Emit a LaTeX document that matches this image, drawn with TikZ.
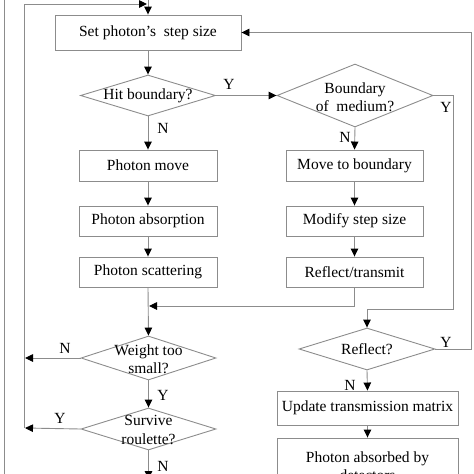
\documentclass[tikz,border=0pt]{standalone}
\usepackage{fontspec}
\setmainfont{Liberation Serif}
\usetikzlibrary{shapes.geometric,arrows.meta}
\begin{document}
\begin{tikzpicture}[x=1pt,y=-1pt,
  every node/.style={font=\fontsize{15.5}{18.5}\selectfont},
  ln/.style={draw=black!45, line width=0.9pt},
  box/.style={rectangle, ln, inner sep=0pt, align=center},
  dia/.style={diamond, ln, inner sep=0pt},
  txt/.style={inner sep=0pt, align=center},
  lab/.style={inner sep=0pt},
  arr/.style={ln, -{Triangle[length=8pt,width=7.5pt,color=black]}},
  con/.style={ln}]
\useasboundingbox (0,0) rectangle (474,474);
\clip (0,0) rectangle (474,474);
% boxes
\node[box, minimum width=186pt, minimum height=35pt] (S) at (148,32.5) {Set photon’s~ step size};
\node[box, minimum width=138pt, minimum height=31pt] (PM) at (148,165.5) {Photon move};
\node[box, minimum width=138pt, minimum height=30pt] (PA) at (148,221) {Photon absorption};
\node[box, minimum width=138pt, minimum height=30pt] (PS) at (148,272) {Photon scattering};
\node[box, minimum width=137pt, minimum height=31pt] (MB) at (354.5,165.5) {Move to boundary};
\node[box, minimum width=137pt, minimum height=30pt] (MS) at (354.5,221) {Modify step size};
\node[box, minimum width=137pt, minimum height=30pt] (RT) at (354.5,272) {Reflect/transmit};
\node[box, minimum width=181pt, minimum height=34pt] (U) at (367.5,408) {Update transmission matrix};
\node[box, minimum width=181pt, minimum height=56pt] (PAB) at (367.5,466) {};
\node[txt] (PABt) at (367.5,466) {Photon absorbed by\\detectors};
% diamonds
\node[dia, minimum width=135pt, minimum height=41pt] (H) at (148,95.5) {};
\node[txt] (Ht) at (148,96) {Hit boundary?};
\node[dia, minimum width=156pt, minimum height=63pt] (B) at (355,95.5) {};
\node[txt] (Bt) at (355,97) {Boundary\\of~ medium?};
\node[dia, minimum width=135pt, minimum height=44pt] (W) at (148.5,358) {};
\node[txt] (Wt) at (148.5,359) {Weight too\\small?};
\node[dia, minimum width=135pt, minimum height=42pt] (SR) at (148.5,429) {};
\node[txt] (SRt) at (148.5,430) {Survive\\roulette?};
\node[dia, minimum width=136pt, minimum height=42pt] (R) at (367,349) {};
\node[txt] (Rt) at (367,349) {Reflect?};
% helper coordinates
\coordinate (top) at (148,-5);
\coordinate (outT) at (4,-5);
\coordinate (outB) at (4,480);
\coordinate (l1) at (24,428);
\coordinate (l2) at (24,4);
\coordinate (l3) at (147,4);
\coordinate (lw) at (25,358);
\coordinate (ls) at (25,428);
\coordinate (j1) at (354.5,306);
\coordinate (j2) at (149,306);
\coordinate (b1) at (453,95.5);
\coordinate (b2) at (453,309);
\coordinate (b3) at (367,309);
\coordinate (r1) at (471,349);
\coordinate (r2) at (471,32.5);
\coordinate (bot) at (148.5,479);
% connectors
\draw[con] (outT) -- (outB);
\draw[arr] (top) -- (S.north);
\draw[arr] (l1) -- (l2) -- (l3);
\draw[arr] (S.south) -- (H.north);
\draw[arr] (H.east) -- (B.west);
\draw[arr] (H.south) -- (PM.north);
\draw[arr] (PM) -- (PA);
\draw[arr] (PA) -- (PS);
\draw[arr] (PS.south) -- (W.north);
\draw[arr] (B.south) -- (MB.north);
\draw[arr] (MB) -- (MS);
\draw[arr] (MS) -- (RT);
\draw[arr] (RT.south) -- (j1) -- (j2);
\draw[arr] (B.east) -- (b1) -- (b2) -- (b3) -- (R.north);
\draw[arr] (R.east) -- (r1) -- (r2) -- (S.east);
\draw[arr] (R.south) -- (U.north);
\draw[arr] (U.south) -- (PAB.north);
\draw[arr] (W.west) -- (lw);
\draw[arr] (W.south) -- (SR.north);
\draw[arr] (SR.west) -- (ls);
\draw[arr] (SR.south) -- (bot);
% labels
\node[lab] (yH) at (229,84) {Y};
\node[lab] (nH) at (163,128) {N};
\node[lab] (nB) at (345,137) {N};
\node[lab] (yB) at (446,107) {Y};
\node[lab] (yR) at (446,342) {Y};
\node[lab] (nR) at (350,385) {N};
\node[lab] (nW) at (65,348) {N};
\node[lab] (yW) at (163,395) {Y};
\node[lab] (yS) at (60,418) {Y};
\node[lab] (nS) at (163,466) {N};
\end{tikzpicture}
\end{document}
